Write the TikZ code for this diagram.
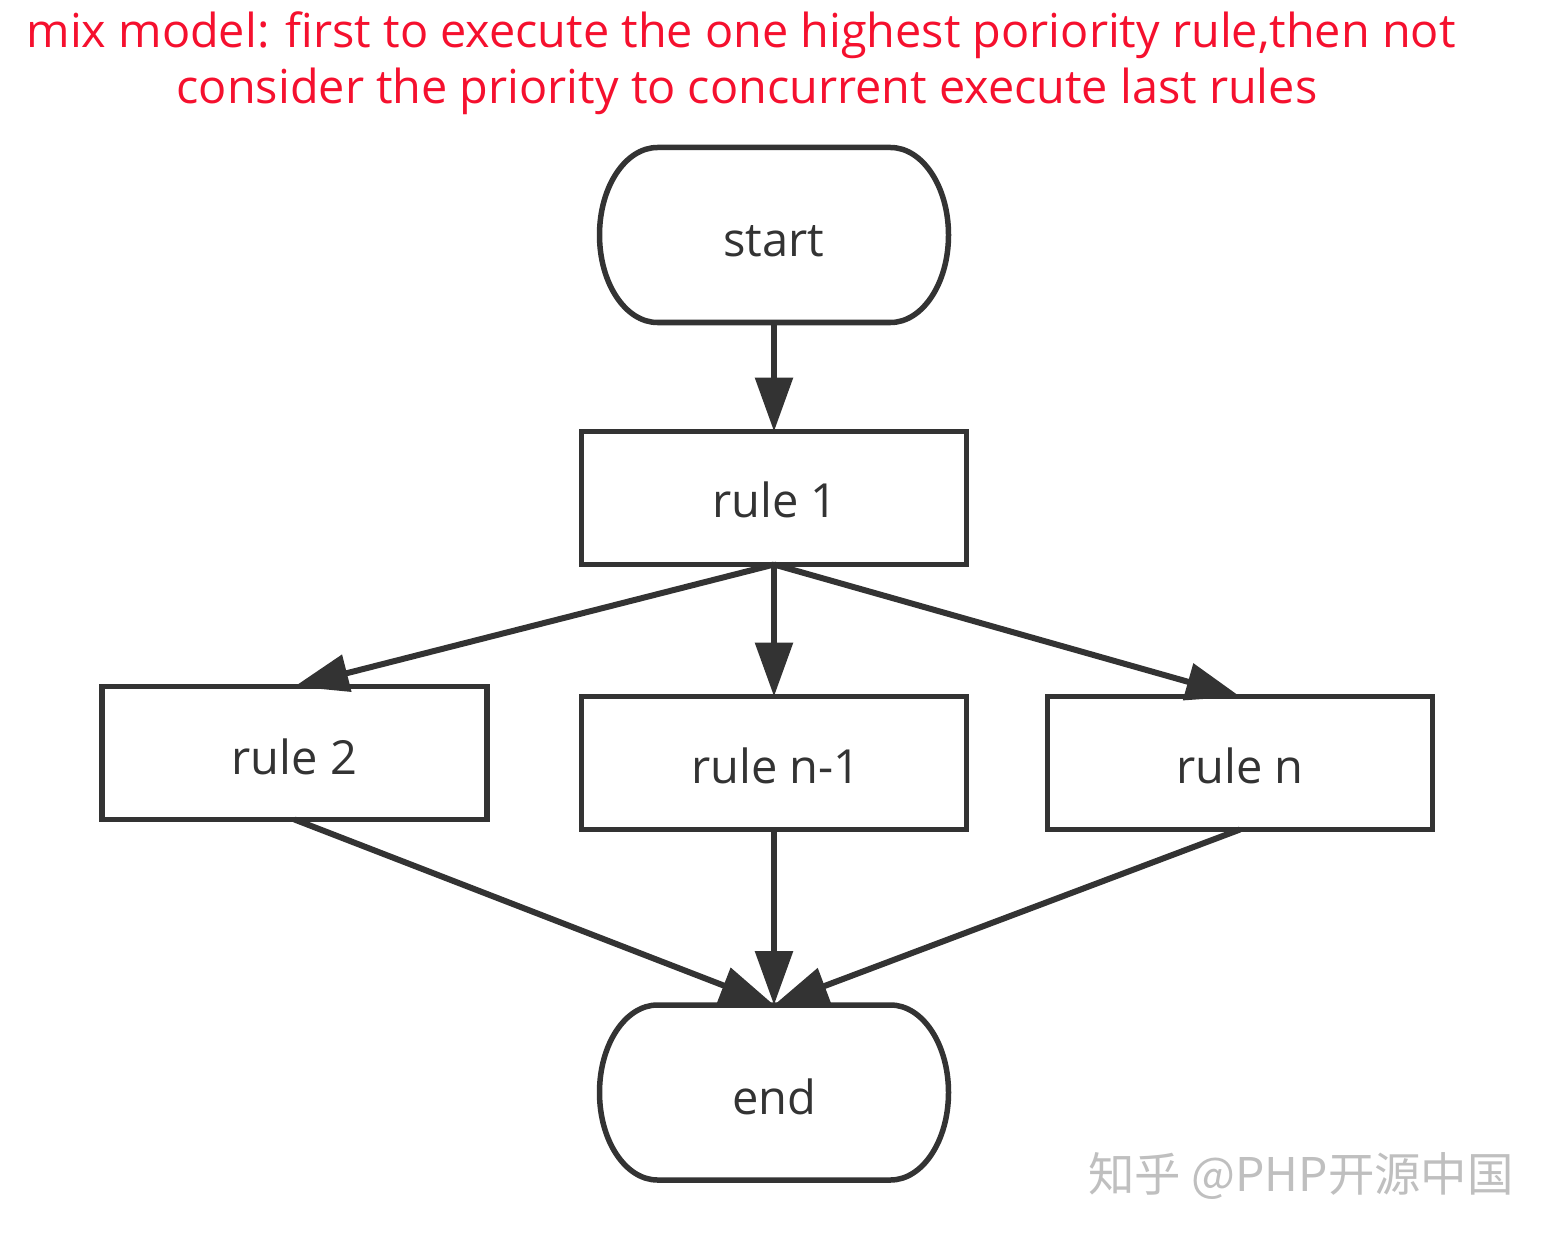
\documentclass[tikz,border=0pt]{standalone}
\usepackage{fontspec}
\setmainfont{Open Sans}
\newfontfamily\cjk{Noto Sans CJK SC}
\usetikzlibrary{arrows.meta,calc}
\definecolor{ink}{HTML}{333333}
\definecolor{headred}{HTML}{F5102E}
\tikzset{
 x=1pt,y=-1pt,
 box/.style={draw=ink,line width=5.5pt,fill=white,outer sep=0pt,minimum width=385pt,minimum height=133pt,inner sep=0pt,text=ink,font=\fontsize{47}{56}\selectfont,anchor=center},
 term/.style={box,draw=none,fill=none,line width=0pt,minimum width=349pt,minimum height=175pt},
 termline/.style={draw=ink,line width=5.5pt,fill=white},
 flow/.style={draw=ink,line width=6pt,-{Triangle[length=54pt,width=37pt]},shorten >=0pt},
 title/.style={text=headred,font=\fontsize{46.8}{56}\selectfont,anchor=center,inner sep=0pt},
}
\newcommand{\termoutline}[1]{%
 \path[termline] ([xshift=58pt]#1.north west) -- ([xshift=-58pt]#1.north east)
  arc[start angle=90,end angle=0,x radius=58pt,y radius=87.5pt]
  arc[start angle=0,end angle=-90,x radius=58pt,y radius=87.5pt]
  -- ([xshift=58pt]#1.south west)
  arc[start angle=270,end angle=180,x radius=58pt,y radius=87.5pt]
  arc[start angle=180,end angle=90,x radius=58pt,y radius=87.5pt]
  -- cycle;}
\newcommand{\lowered}[2]{\raisebox{-#1}[\height][\depth]{#2}}
\begin{document}
\begin{tikzpicture}
\useasboundingbox (0,0) rectangle (1554,1238);
\node[title] (t1) at (741,35) {mix model: first to execute the one highest poriority rule,then not};
\node[title] (t2) at (747,91) {consider the priority to concurrent execute last rules};
\coordinate (sc) at (774,235);
\coordinate (ec) at (774,1092.5);
\node[term] (startshape) at (sc) {};
\termoutline{startshape}
\node[term] (start) at (sc) {\lowered{6pt}{start}};
\node[box] (r1) at (774,498) {\hspace{2pt}\lowered{2pt}{rule 1}};
\node[box] (r2) at (294.5,753) {\lowered{4pt}{rule 2}};
\node[box] (rn1) at (774,763) {\hspace{4pt}\lowered{3pt}{rule n-1}};
\node[box] (rn) at (1240,763) {\lowered{3pt}{rule n}};
\node[term] (endshape) at (ec) {};
\termoutline{endshape}
\node[term] (end) at (ec) {\lowered{4pt}{end}};
\draw[flow] (start.south) -- (r1.north);
\draw[flow] (r1.south) -- (r2.north);
\draw[flow] (r1.south) -- (rn1.north);
\draw[flow] (r1.south) -- (rn.north);
\draw[flow] (r2.south) -- (end.north);
\draw[flow] (rn1.south) -- (end.north);
\draw[flow] (rn.south) -- (end.north);
\node[text=gray!50,font=\cjk\fontsize{46.4}{56}\selectfont,anchor=center,inner sep=0pt] (wm) at (1301,1176) {知乎 @PHP开源中国};
\end{tikzpicture}
\end{document}
